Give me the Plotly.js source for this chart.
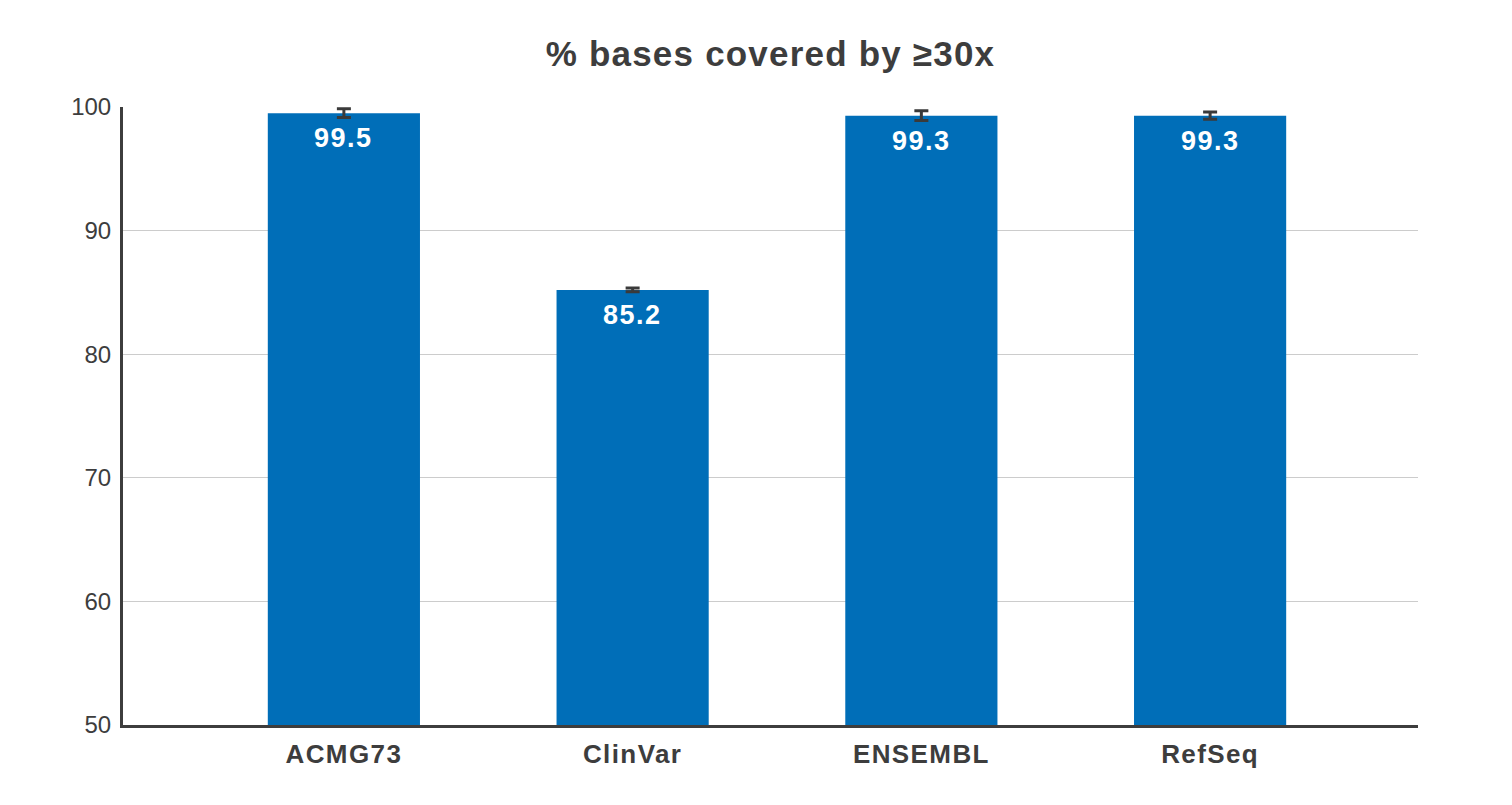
<!DOCTYPE html>
<html>
<head>
<meta charset="utf-8">
<script src="https://cdn.plot.ly/plotly-3.0.1.min.js"></script>
<style>
html,body{margin:0;padding:0;background:#fff;}
#chart{width:1512px;height:805px;}
#chart .gtitle{letter-spacing:1.2px;}
#chart .xtick text{letter-spacing:1.4px;}
#chart .annotation-text{letter-spacing:1.5px;}
</style>
</head>
<body>
<div id="chart"></div>
<script>
const categories = ["ACMG73", "ClinVar", "ENSEMBL", "RefSeq"];
const values = [99.5, 85.2, 99.3, 99.3];
const errors = [0.35, 0.15, 0.4, 0.3];
const labels = ["99.5", "85.2", "99.3", "99.3"];
const yTicks = [50, 60, 70, 80, 90, 100];

const FONT = "Liberation Sans, Arial, sans-serif";

const trace = {
  type: "bar",
  x: categories,
  y: values,
  width: 0.527,
  marker: {color: "#006EB8"},
  error_y: {type: "data", array: errors, visible: true, color: "#3a3a3a", thickness: 3, width: 7},
  hoverinfo: "x+y",
  cliponaxis: false
};

const annotations = categories.map((c, i) => ({
  x: c, y: values[i], xref: "x", yref: "y",
  text: "<b>" + labels[i] + "</b>",
  showarrow: false, yanchor: "top", xanchor: "center", yshift: -8,
  font: {family: FONT, size: 27, color: "#ffffff"}
}));

const layout = {
  width: 1512, height: 805,
  margin: {l: 123, r: 94, t: 107, b: 80},
  paper_bgcolor: "#fff", plot_bgcolor: "#fff",
  showlegend: false,
  annotations: annotations,
  title: {
    text: "<b>% bases covered by ≥30x</b>",
    font: {family: FONT, size: 35, color: "#3d3d3d"},
    x: 0.5, xref: "paper", xanchor: "center",
    y: 0.933, yref: "container", yanchor: "middle"
  },
  xaxis: {
    type: "category",
    range: [-0.765, 3.72],
    showline: true, linecolor: "#3d3d3d", linewidth: 3,
    showgrid: false, ticks: "",
    tickfont: {family: FONT, size: 26, color: "#3d3d3d", weight: "bold"},
    ticklabelstandoff: 4
  },
  yaxis: {
    range: [50, 100],
    tickvals: yTicks,
    ticktext: yTicks.map(String),
    showline: true, linecolor: "#3d3d3d", linewidth: 3,
    showgrid: true, gridcolor: "#cccccc", gridwidth: 1,
    zeroline: false, ticks: "",
    tickfont: {family: FONT, size: 24, color: "#3d3d3d"},
    ticklabelstandoff: 4
  }
};

Plotly.newPlot("chart", [trace], layout, {displayModeBar: false, staticPlot: true});
</script>
</body>
</html>
